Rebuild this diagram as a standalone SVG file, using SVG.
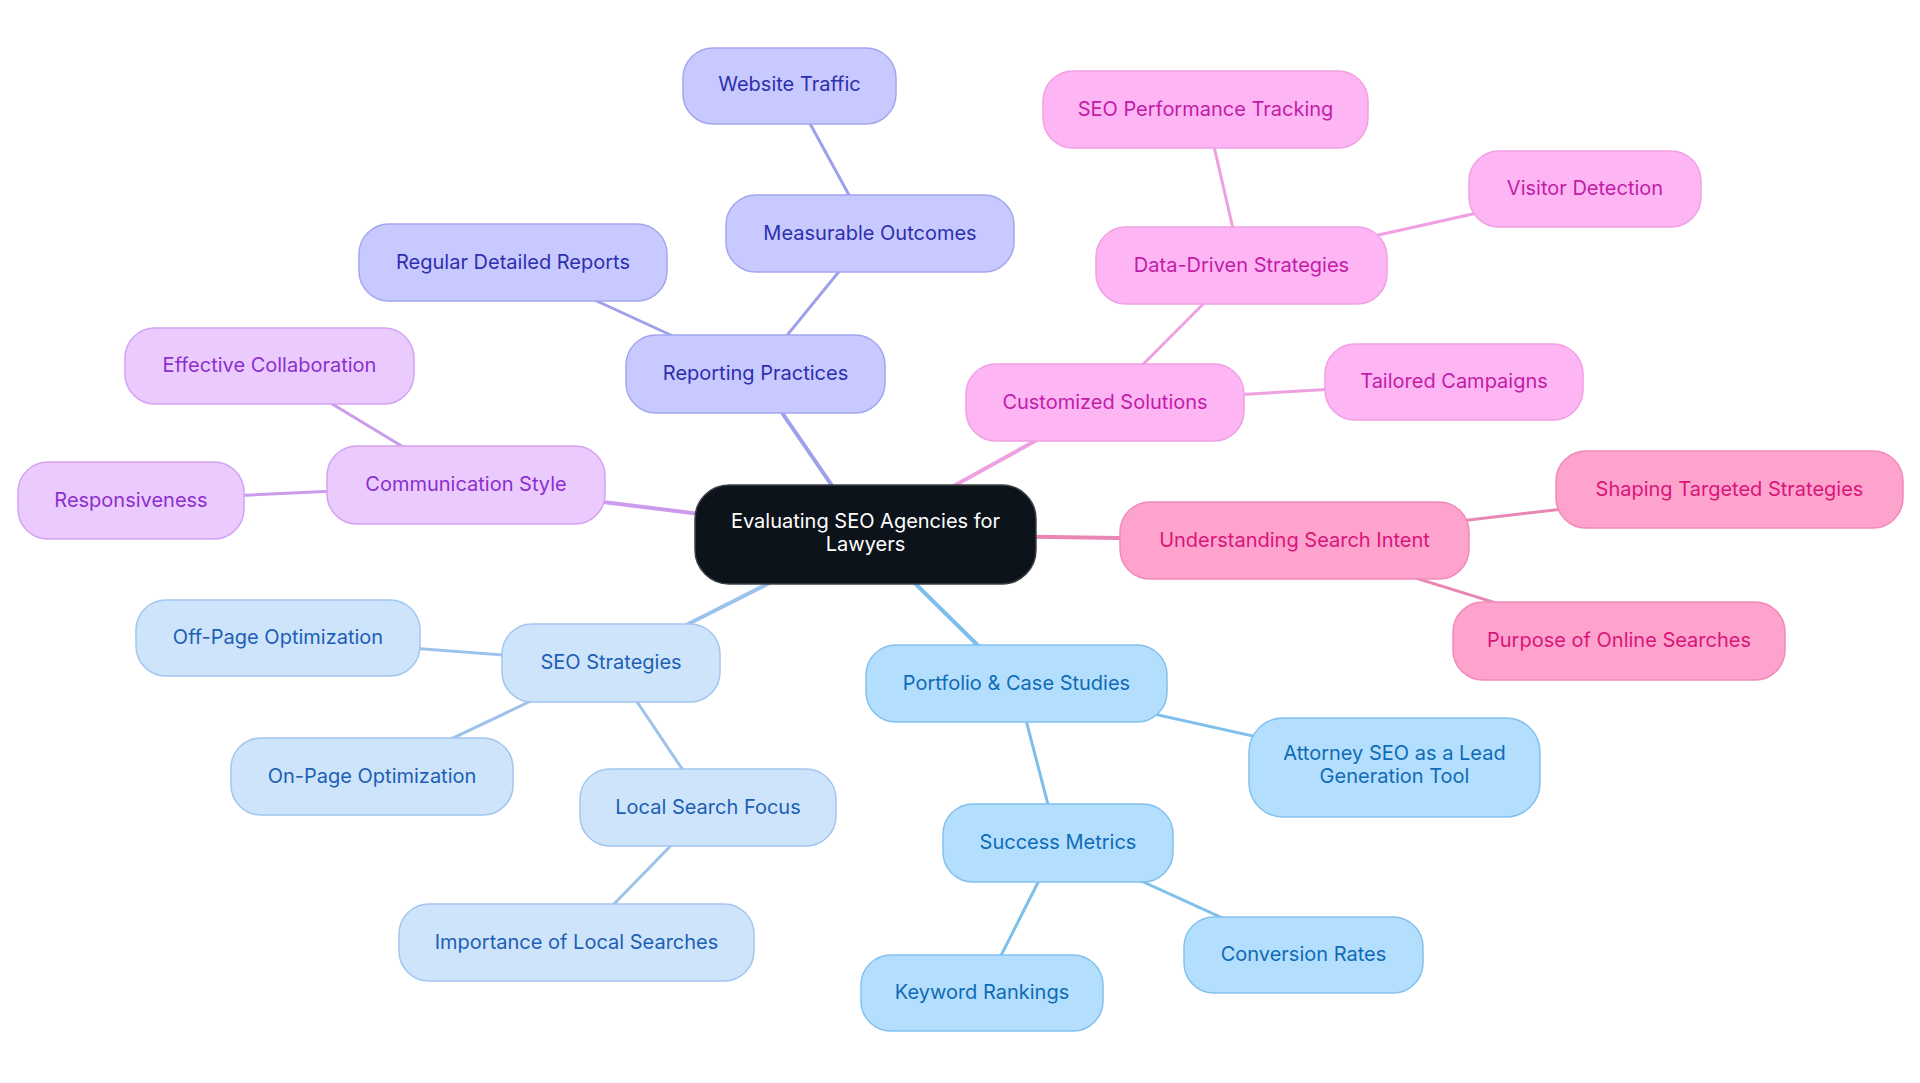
<svg xmlns="http://www.w3.org/2000/svg" width="1920" height="1083" viewBox="0 0 1920 1083">
<style>
text{font-family:Inter,"Noto Sans","Liberation Sans",sans-serif;font-size:20px;text-anchor:middle;transform:translateY(-1px)}
.e{fill:none;stroke-linecap:round}
.l1{stroke-width:4}
.l2{stroke-width:3}
.c0 rect{fill:#0d131a;stroke:#3c4047;stroke-width:1.5}
.c0 text{fill:#ffffff}
.cA rect{fill:#c8caff;stroke:#a3a6ee;stroke-width:1.5}
.cA text{fill:#2d2fae}
.cB rect{fill:#ebcbfe;stroke:#d3a3f2;stroke-width:1.5}
.cB text{fill:#8b2fcf}
.cC rect{fill:#feb5f4;stroke:#f0a0e4;stroke-width:1.5}
.cC text{fill:#c21ca7}
.cD rect{fill:#fea3cd;stroke:#f08ab9;stroke-width:1.5}
.cD text{fill:#d9157a}
.cE rect{fill:#cee4fb;stroke:#a2c6ef;stroke-width:1.5}
.cE text{fill:#1c5fb5}
.cF rect{fill:#b4defd;stroke:#82c1ef;stroke-width:1.5}
.cF text{fill:#0f6bb6}
.sA{stroke:#9ea1ea}.sB{stroke:#cc9cec}.sC{stroke:#eea0e2}.sD{stroke:#e986b6}.sE{stroke:#9dc3eb}.sF{stroke:#7ebfeb}
</style>
<g id="connectors">
<line class="e l1 sA" x1="865.5" y1="534.5" x2="755.5" y2="374"/>
<line class="e l2 sA" x1="755.5" y1="374" x2="870" y2="233.5"/>
<line class="e l2 sA" x1="870" y1="233.5" x2="789.5" y2="86"/>
<line class="e l2 sA" x1="755.5" y1="374" x2="513" y2="262.5"/>
<line class="e l1 sB" x1="865.5" y1="534.5" x2="466" y2="485"/>
<line class="e l2 sB" x1="466" y1="485" x2="269.5" y2="366"/>
<line class="e l2 sB" x1="466" y1="485" x2="131" y2="500.5"/>
<line class="e l1 sC" x1="865.5" y1="534.5" x2="1105" y2="402.5"/>
<line class="e l2 sC" x1="1105" y1="402.5" x2="1241.5" y2="265.5"/>
<line class="e l2 sC" x1="1241.5" y1="265.5" x2="1205.5" y2="109.5"/>
<line class="e l2 sC" x1="1241.5" y1="265.5" x2="1585" y2="189"/>
<line class="e l2 sC" x1="1105" y1="402.5" x2="1454" y2="382"/>
<line class="e l1 sD" x1="865.5" y1="534.5" x2="1294.5" y2="540.5"/>
<line class="e l2 sD" x1="1294.5" y1="540.5" x2="1729.5" y2="489.5"/>
<line class="e l2 sD" x1="1294.5" y1="540.5" x2="1619" y2="641"/>
<line class="e l1 sE" x1="865.5" y1="534.5" x2="611" y2="663"/>
<line class="e l2 sE" x1="611" y1="663" x2="278" y2="638"/>
<line class="e l2 sE" x1="611" y1="663" x2="372" y2="776.5"/>
<line class="e l2 sE" x1="611" y1="663" x2="708" y2="807.5"/>
<line class="e l2 sE" x1="708" y1="807.5" x2="576.5" y2="942.5"/>
<line class="e l1 sF" x1="865.5" y1="534.5" x2="1016.5" y2="683.5"/>
<line class="e l2 sF" x1="1016.5" y1="683.5" x2="1394.5" y2="767.5"/>
<line class="e l2 sF" x1="1016.5" y1="683.5" x2="1058" y2="843"/>
<line class="e l2 sF" x1="1058" y1="843" x2="1303.5" y2="955"/>
<line class="e l2 sF" x1="1058" y1="843" x2="982" y2="993"/>
</g>
<g id="n-root" class="c0"><rect x="695" y="485" width="341" height="99" rx="34"/><text x="865.5" y="529">Evaluating SEO Agencies for</text><text x="865.5" y="552">Lawyers</text></g>
<g id="n-reporting" class="cA"><rect x="626" y="335" width="259" height="78" rx="30"/><text x="755.5" y="381">Reporting Practices</text></g>
<g id="n-measurable" class="cA"><rect x="726" y="195" width="288" height="77" rx="30"/><text x="870" y="240.5">Measurable Outcomes</text></g>
<g id="n-website" class="cA"><rect x="683" y="48" width="213" height="76" rx="30"/><text x="789.5" y="92">Website Traffic</text></g>
<g id="n-regular" class="cA"><rect x="359" y="224" width="308" height="77" rx="30"/><text x="513" y="269.5">Regular Detailed Reports</text></g>
<g id="n-comm" class="cB"><rect x="327" y="446" width="278" height="78" rx="30"/><text x="466" y="492">Communication Style</text></g>
<g id="n-collab" class="cB"><rect x="125" y="328" width="289" height="76" rx="30"/><text x="269.5" y="373">Effective Collaboration</text></g>
<g id="n-resp" class="cB"><rect x="18" y="462" width="226" height="77" rx="30"/><text x="131" y="507.5">Responsiveness</text></g>
<g id="n-custom" class="cC"><rect x="966" y="364" width="278" height="77" rx="30"/><text x="1105" y="409.5">Customized Solutions</text></g>
<g id="n-data" class="cC"><rect x="1096" y="227" width="291" height="77" rx="30"/><text x="1241.5" y="272.5">Data-Driven Strategies</text></g>
<g id="n-seoperf" class="cC"><rect x="1043" y="71" width="325" height="77" rx="30"/><text x="1205.5" y="116.5">SEO Performance Tracking</text></g>
<g id="n-visitor" class="cC"><rect x="1469" y="151" width="232" height="76" rx="30"/><text x="1585" y="196">Visitor Detection</text></g>
<g id="n-tailored" class="cC"><rect x="1325" y="344" width="258" height="76" rx="30"/><text x="1454" y="389">Tailored Campaigns</text></g>
<g id="n-intent" class="cD"><rect x="1120" y="502" width="349" height="77" rx="30"/><text x="1294.5" y="547.5">Understanding Search Intent</text></g>
<g id="n-shaping" class="cD"><rect x="1556" y="451" width="347" height="77" rx="30"/><text x="1729.5" y="496.5">Shaping Targeted Strategies</text></g>
<g id="n-purpose" class="cD"><rect x="1453" y="602" width="332" height="78" rx="30"/><text x="1619" y="648">Purpose of Online Searches</text></g>
<g id="n-seostrat" class="cE"><rect x="502" y="624" width="218" height="78" rx="30"/><text x="611" y="670">SEO Strategies</text></g>
<g id="n-offpage" class="cE"><rect x="136" y="600" width="284" height="76" rx="30"/><text x="278" y="645">Off-Page Optimization</text></g>
<g id="n-onpage" class="cE"><rect x="231" y="738" width="282" height="77" rx="30"/><text x="372" y="783.5">On-Page Optimization</text></g>
<g id="n-local" class="cE"><rect x="580" y="769" width="256" height="77" rx="30"/><text x="708" y="814.5">Local Search Focus</text></g>
<g id="n-importance" class="cE"><rect x="399" y="904" width="355" height="77" rx="30"/><text x="576.5" y="949.5">Importance of Local Searches</text></g>
<g id="n-portfolio" class="cF"><rect x="866" y="645" width="301" height="77" rx="30"/><text x="1016.5" y="690.5">Portfolio &amp; Case Studies</text></g>
<g id="n-attorney" class="cF"><rect x="1249" y="718" width="291" height="99" rx="34"/><text x="1394.5" y="761">Attorney SEO as a Lead</text><text x="1394.5" y="784">Generation Tool</text></g>
<g id="n-success" class="cF"><rect x="943" y="804" width="230" height="78" rx="30"/><text x="1058" y="850">Success Metrics</text></g>
<g id="n-conversion" class="cF"><rect x="1184" y="917" width="239" height="76" rx="30"/><text x="1303.5" y="962">Conversion Rates</text></g>
<g id="n-keyword" class="cF"><rect x="861" y="955" width="242" height="76" rx="30"/><text x="982" y="1000">Keyword Rankings</text></g>
</svg>
